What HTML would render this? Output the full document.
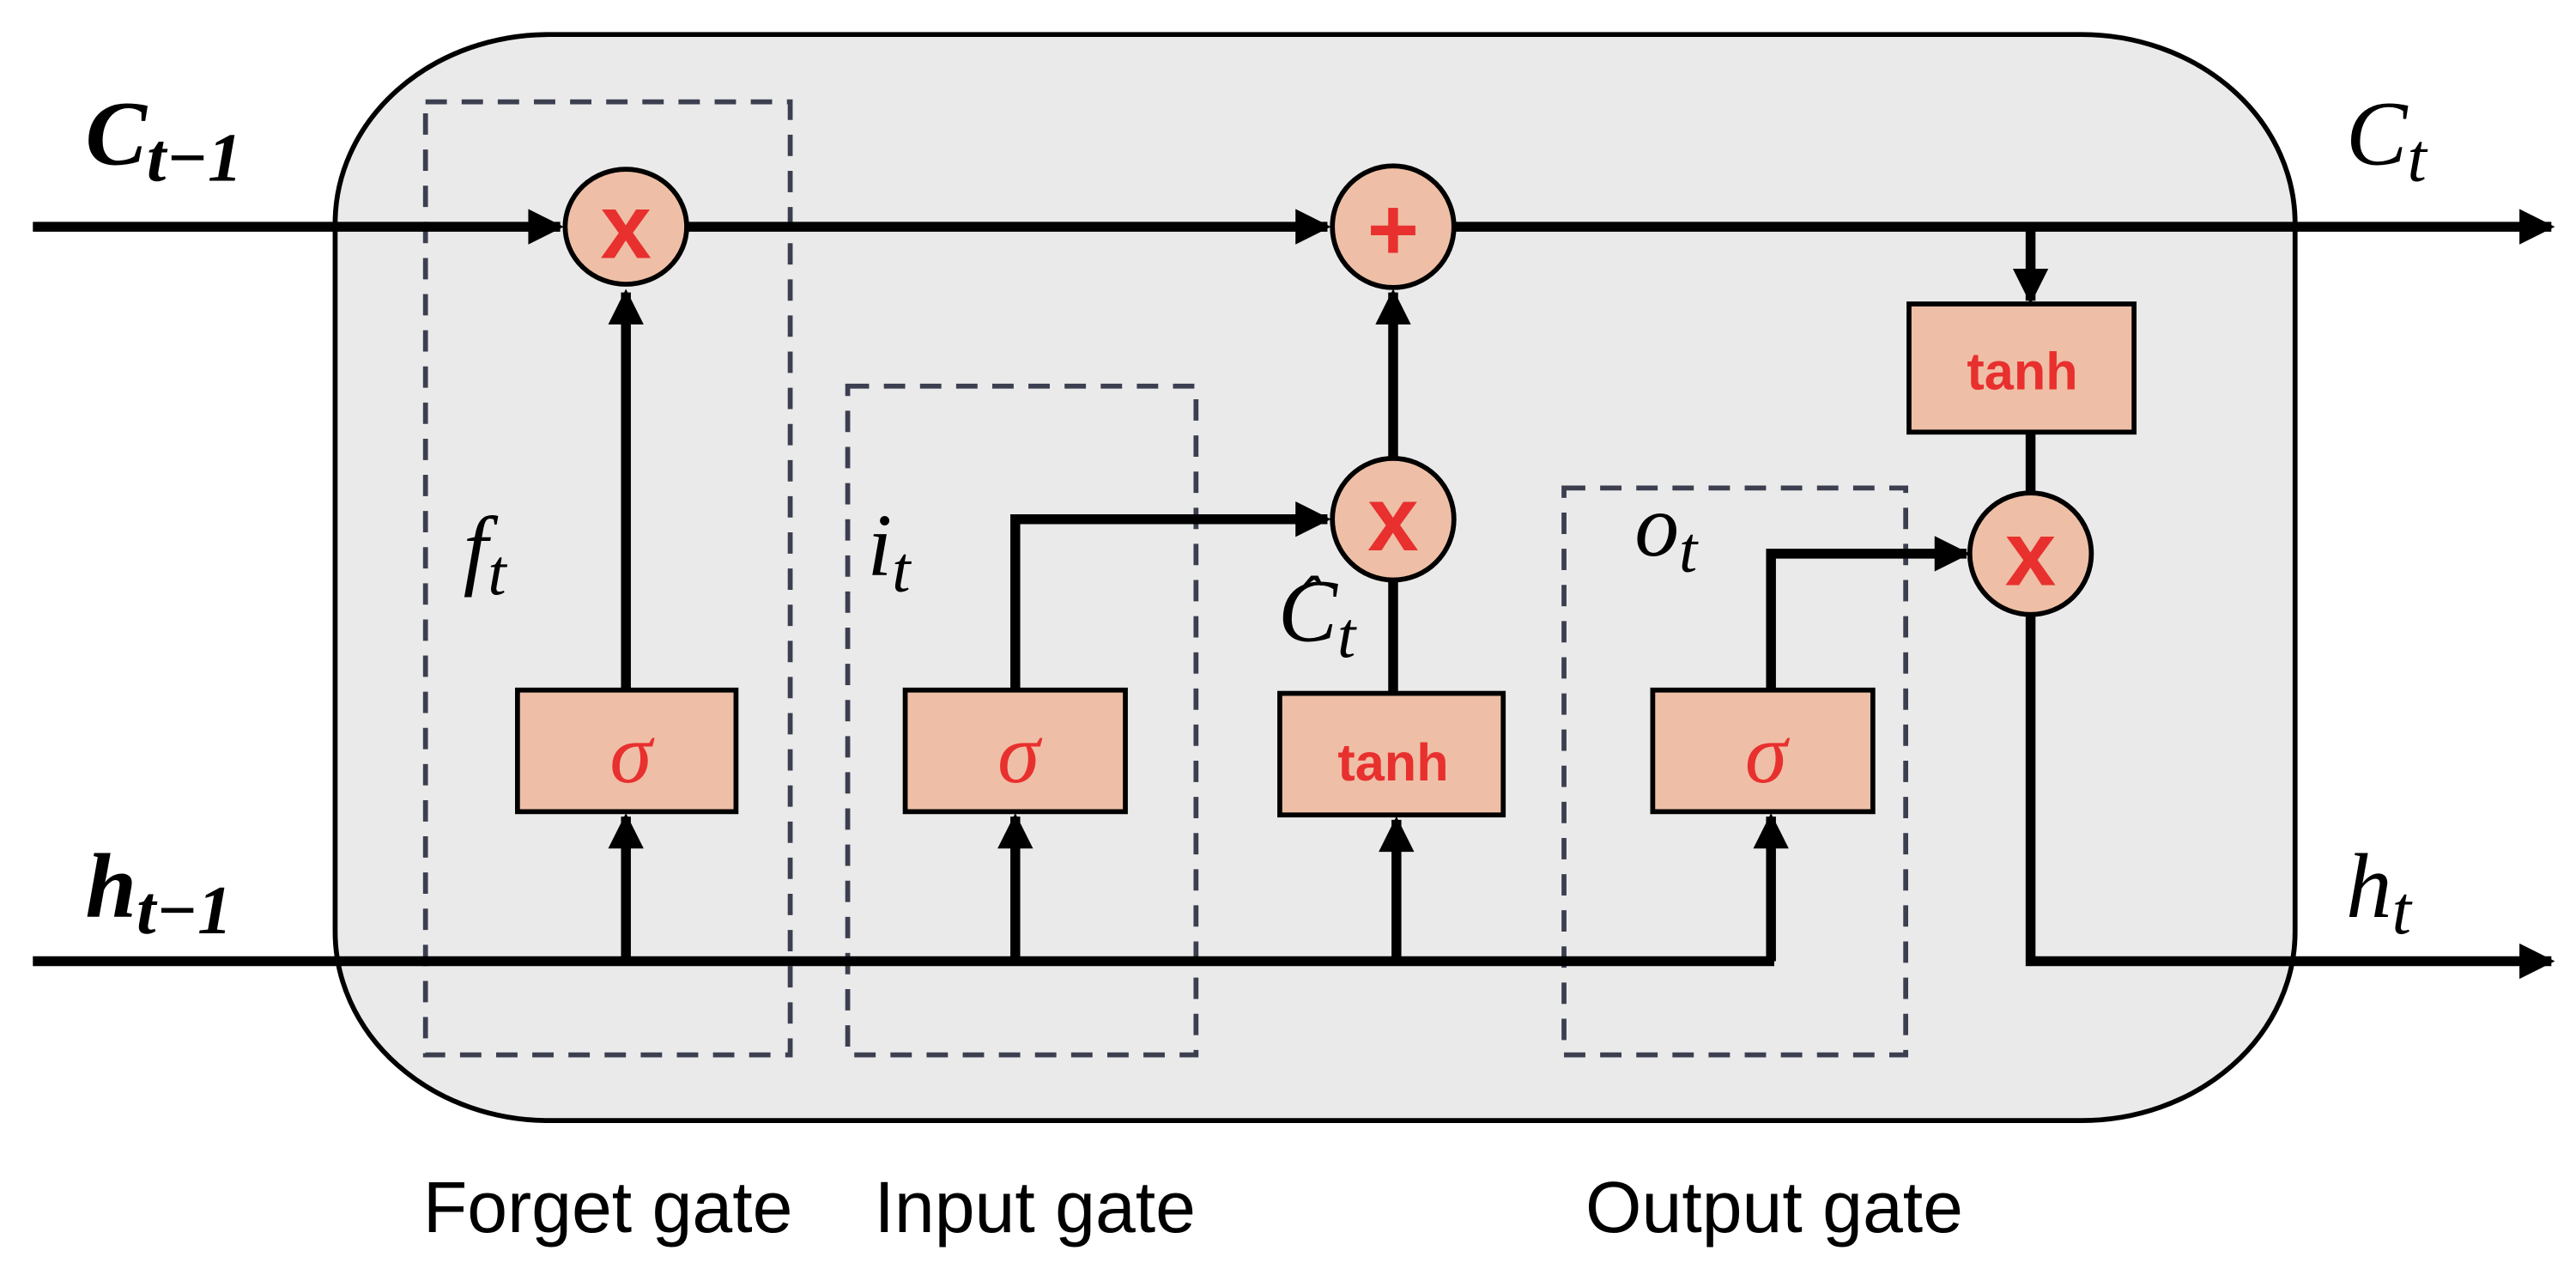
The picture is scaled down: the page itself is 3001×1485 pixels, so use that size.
<!DOCTYPE html>
<html><head><meta charset="utf-8"><style>html,body{margin:0;padding:0;background:#fff}svg{display:block}</style></head>
<body>
<svg width="3001" height="1485" viewBox="0 0 1568 776" preserveAspectRatio="none" xmlns="http://www.w3.org/2000/svg">
<defs>
<marker id="a" viewBox="0 0 10 10" refX="9" refY="5" markerWidth="4" markerHeight="3.6" orient="auto" markerUnits="strokeWidth"><path d="M0,0 L10,5 L0,10 z" fill="#000"/></marker>
</defs>
<rect x="204" y="21" width="1193" height="661" rx="130" ry="115" fill="#eaeaea" stroke="#000" stroke-width="3"/>
<g fill="none" stroke="#3b3f50" stroke-width="3" stroke-dasharray="13,9">
<rect x="259" y="62" width="222" height="580"/>
<rect x="516" y="235" width="212" height="407"/>
<rect x="952" y="297" width="208" height="345"/>
</g>
<g stroke="#000" stroke-width="6" fill="none">
<line x1="20" y1="138" x2="341" y2="138" marker-end="url(#a)"/>
<line x1="419" y1="138" x2="808" y2="138" marker-end="url(#a)"/>
<line x1="886" y1="138" x2="1553" y2="138" marker-end="url(#a)"/>
<line x1="1236" y1="138" x2="1236" y2="183" marker-end="url(#a)"/>
<line x1="1236" y1="263" x2="1236" y2="300"/>
<line x1="381" y1="420" x2="381" y2="178" marker-end="url(#a)"/>
<line x1="848" y1="278" x2="848" y2="178" marker-end="url(#a)"/>
<line x1="848" y1="422" x2="848" y2="354"/>
<polyline points="618,420 618,316 808,316" marker-end="url(#a)"/>
<polyline points="1078,420 1078,337 1197,337" marker-end="url(#a)"/>
<line x1="20" y1="585" x2="1080" y2="585"/>
<polyline points="1236,375 1236,585 1553,585" marker-end="url(#a)"/>
<line x1="381" y1="585" x2="381" y2="497" marker-end="url(#a)"/>
<line x1="618" y1="585" x2="618" y2="497" marker-end="url(#a)"/>
<line x1="850" y1="585" x2="850" y2="499" marker-end="url(#a)"/>
<line x1="1078" y1="585" x2="1078" y2="497" marker-end="url(#a)"/>
</g>
<g fill="#eebfa6" stroke="#000" stroke-width="3">
<rect x="315" y="420" width="133" height="74"/>
<rect x="551" y="420" width="134" height="74"/>
<rect x="779" y="422" width="136" height="74"/>
<rect x="1006" y="420" width="134" height="74"/>
<rect x="1162" y="185" width="137" height="78"/>
<ellipse cx="381" cy="138" rx="37" ry="35"/>
<circle cx="848" cy="138" r="37"/>
<circle cx="848" cy="316" r="37"/>
<circle cx="1236" cy="337" r="37"/>
</g>
<g fill="#e8302f" font-family="Liberation Sans, sans-serif" font-weight="bold" text-anchor="middle">
<text x="381" y="157" font-size="56">x</text>
<text x="848" y="335" font-size="56">x</text>
<text x="1236" y="356" font-size="56">x</text>
<text x="848" y="158" font-size="54">+</text>
<text x="848" y="475" font-size="32">tanh</text>
<text x="1231" y="237" font-size="32">tanh</text>
</g>
<g fill="#e8302f" font-family="Liberation Serif, serif" font-style="italic" font-size="52" text-anchor="middle">
<text x="384" y="476">σ</text>
<text x="620" y="476">σ</text>
<text x="1075" y="476">σ</text>
</g>
<g font-family="Liberation Serif, serif" font-style="italic" fill="#000">
<text x="52" y="100" font-size="56" font-weight="bold">C<tspan font-size="42" dy="10">t−1</tspan></text>
<text x="52" y="558" font-size="56" font-weight="bold">h<tspan font-size="42" dy="10">t−1</tspan></text>
<text x="1428" y="100" font-size="56">C<tspan font-size="42" dy="10">t</tspan></text>
<text x="1428" y="558" font-size="56">h<tspan font-size="42" dy="10">t</tspan></text>
<text x="282" y="352" font-size="54">f<tspan font-size="40" dy="10">t</tspan></text>
<text x="528" y="350" font-size="54">i<tspan font-size="40" dy="10">t</tspan></text>
<text x="778" y="390" font-size="54">C<tspan font-size="40" dy="10">t</tspan></text>
<text x="790" y="378" font-size="40">ˆ</text>
<text x="995" y="338" font-size="54">o<tspan font-size="40" dy="10">t</tspan></text>
</g>
<g font-family="Liberation Sans, sans-serif" font-size="44" fill="#000" text-anchor="middle">
<text x="370" y="750">Forget gate</text>
<text x="630" y="750">Input gate</text>
<text x="1080" y="750">Output gate</text>
</g>
</svg>
</body></html>
